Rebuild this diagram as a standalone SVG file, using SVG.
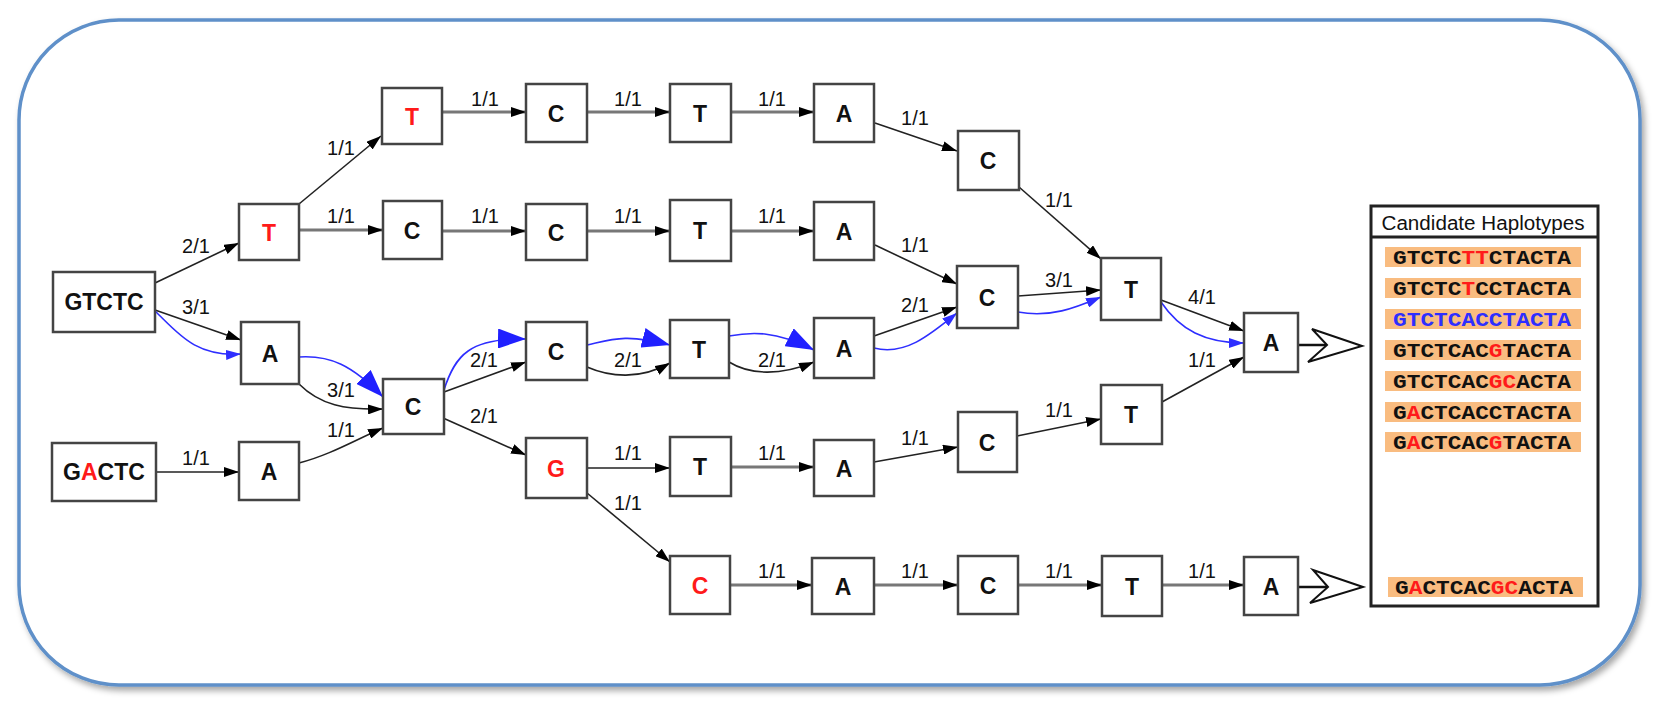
<svg xmlns="http://www.w3.org/2000/svg" width="1655" height="725" viewBox="0 0 1655 725">
<style>
.node rect{fill:#fff;stroke:#444;stroke-width:2.5}
.nt{font-family:"Liberation Sans",Arial,sans-serif;font-weight:bold;font-size:23px;text-anchor:middle;fill:#111}
.red{fill:#ff1a1a}
.lbl{font-family:"Liberation Sans",Arial,sans-serif;font-size:20px;text-anchor:middle;fill:#111}
.e{fill:none;stroke:#222;stroke-width:1.6;marker-end:url(#ab)}
.eh{fill:none;stroke:#777;stroke-width:3;marker-end:url(#ab)}
.b{fill:none;stroke:#2e2eff;stroke-width:1.6;marker-end:url(#abs)}
.bb{fill:none;stroke:#2e2eff;stroke-width:1.6;marker-end:url(#abb)}
.chev{fill:#fff;stroke:#111;stroke-width:2}
.hap{fill:#f9bc80}
.ht{font-family:"Liberation Mono","DejaVu Sans Mono",monospace;font-weight:bold;font-size:21px;fill:#111}
</style>
<defs>
<marker id="ab" viewBox="0 0 15 10" refX="15" refY="5" markerWidth="15" markerHeight="10" markerUnits="userSpaceOnUse" orient="auto"><path d="M0,0 L15,5 L0,10 z" fill="#000"/></marker>
<marker id="abs" viewBox="0 0 15 10" refX="15" refY="5" markerWidth="15" markerHeight="10" markerUnits="userSpaceOnUse" orient="auto"><path d="M0,0 L15,5 L0,10 z" fill="#2e2eff"/></marker>
<marker id="abb" viewBox="0 0 28 20" refX="28" refY="10" markerWidth="28" markerHeight="20" markerUnits="userSpaceOnUse" orient="auto"><path d="M0,0 L28,10 L0,20 z" fill="#2020ff"/></marker>
<filter id="sh" x="-5%" y="-5%" width="110%" height="115%"><feDropShadow dx="3" dy="4" stdDeviation="3" flood-color="#000" flood-opacity="0.35"/></filter>
</defs>
<rect x="19" y="20" width="1621" height="665" rx="100" ry="100" fill="#fff" stroke="#5f90c9" stroke-width="3.5" filter="url(#sh)"/>

<g id="connectors">
<path class="e" d="M155,283 L239,243"/>
<path class="e" d="M299,204 L381,136"/>
<path class="eh" d="M442,112 L526,112"/>
<path class="eh" d="M299,230 L383,230"/>
<path class="eh" d="M442,231 L526,231"/>
<path class="e" d="M155,310 L241,340"/>
<path class="b" d="M155,311 C178,333 195,357 241,354"/>
<path class="bb" d="M299,357 C330,355 352,365 383,397"/>
<path class="e" d="M299,384 C320,405 345,410 383,409"/>
<path class="e" d="M156,472 L239,472"/>
<path class="e" d="M299,463 C330,455 355,440 383,428"/>
<path class="e" d="M444,392 L526,362"/>
<path class="bb" d="M444,390 C455,355 470,338 526,339"/>
<path class="e" d="M443,418 L526,455"/>
<path class="eh" d="M587,112 L670,112"/>
<path class="eh" d="M731,112 L814,112"/>
<path class="e" d="M875,123 L957,151"/>
<path class="e" d="M1019,187 L1101,259"/>
<path class="eh" d="M587,231 L670,231"/>
<path class="eh" d="M731,231 L814,231"/>
<path class="e" d="M875,245 L957,284"/>
<path class="e" d="M874,336 L957,307"/>
<path class="b" d="M874,348 C905,356 930,335 957,313"/>
<path class="e" d="M1018,296 L1101,290"/>
<path class="b" d="M1018,312 C1050,318 1075,308 1101,297"/>
<path class="bb" d="M587,345 C610,340 625,333 670,345"/>
<path class="e" d="M587,367 C610,377 640,380 670,363"/>
<path class="bb" d="M729,336 C750,332 775,330 814,350"/>
<path class="e" d="M729,362 C750,375 780,376 814,362"/>
<path class="e" d="M587,468 L670,468"/>
<path class="eh" d="M731,467 L814,467"/>
<path class="e" d="M874,462 L958,447"/>
<path class="e" d="M1017,436 L1101,419"/>
<path class="e" d="M587,493 L670,562"/>
<path class="eh" d="M730,585 L812,585"/>
<path class="eh" d="M874,585 L958,585"/>
<path class="eh" d="M1018,585 L1102,585"/>
<path class="eh" d="M1162,585 L1244,585"/>
<path class="e" d="M1161,300 L1244,331"/>
<path class="b" d="M1161,302 C1180,330 1205,343 1244,343"/>
<path class="e" d="M1162,402 L1244,357"/>
<path d="M1298,345 L1327,345" stroke="#111" stroke-width="2.5"/>
<polygon class="chev" points="1312,329 1362,346 1308,362 1327,345"/>
<path d="M1298,587 L1328,587" stroke="#111" stroke-width="2.5"/>
<polygon class="chev" points="1313,570 1363,587 1310,603 1328,587"/>
<g class="lbl">
<text x="485" y="106">1/1</text>
<text x="341" y="155">1/1</text>
<text x="341" y="223">1/1</text>
<text x="485" y="223">1/1</text>
<text x="196" y="253">2/1</text>
<text x="196" y="314">3/1</text>
<text x="341" y="397">3/1</text>
<text x="341" y="437">1/1</text>
<text x="196" y="465">1/1</text>
<text x="484" y="367">2/1</text>
<text x="484" y="423">2/1</text>
<text x="628" y="106">1/1</text>
<text x="772" y="106">1/1</text>
<text x="915" y="125">1/1</text>
<text x="1059" y="207">1/1</text>
<text x="628" y="223">1/1</text>
<text x="772" y="223">1/1</text>
<text x="915" y="252">1/1</text>
<text x="1059" y="287">3/1</text>
<text x="915" y="312">2/1</text>
<text x="628" y="367">2/1</text>
<text x="772" y="367">2/1</text>
<text x="628" y="460">1/1</text>
<text x="772" y="460">1/1</text>
<text x="915" y="445">1/1</text>
<text x="1059" y="417">1/1</text>
<text x="628" y="510">1/1</text>
<text x="772" y="578">1/1</text>
<text x="915" y="578">1/1</text>
<text x="1059" y="578">1/1</text>
<text x="1202" y="304">4/1</text>
<text x="1202" y="367">1/1</text>
<text x="1202" y="578">1/1</text>
</g>
</g>

<g id="n_gtctc" class="node"><rect x="53" y="272" width="102" height="60"/><text class="nt" x="104" y="310">GTCTC</text></g>
<g id="n_gactc" class="node"><rect x="52" y="443" width="104" height="58"/><text class="nt" x="104" y="480">G<tspan class="red">A</tspan>CTC</text></g>
<g id="n_t_red2" class="node"><rect x="239" y="204" width="60" height="56"/><text class="nt red" x="269" y="241">T</text></g>
<g id="n_a_r3" class="node"><rect x="241" y="322" width="58" height="62"/><text class="nt" x="270" y="362">A</text></g>
<g id="n_a_r4" class="node"><rect x="239" y="442" width="60" height="58"/><text class="nt" x="269" y="480">A</text></g>
<g id="n_t_red1" class="node"><rect x="382" y="88" width="60" height="56"/><text class="nt red" x="412" y="125">T</text></g>
<g id="n_c_r2a" class="node"><rect x="383" y="201" width="59" height="58"/><text class="nt" x="412" y="239">C</text></g>
<g id="n_c_merge" class="node"><rect x="383" y="379" width="61" height="55"/><text class="nt" x="413" y="415">C</text></g>
<g id="n_c_r1" class="node"><rect x="526" y="84" width="61" height="58"/><text class="nt" x="556" y="122">C</text></g>
<g id="n_c_r2b" class="node"><rect x="526" y="204" width="61" height="56"/><text class="nt" x="556" y="241">C</text></g>
<g id="n_c_r3" class="node"><rect x="526" y="322" width="61" height="58"/><text class="nt" x="556" y="360">C</text></g>
<g id="n_g" class="node"><rect x="526" y="438" width="61" height="60"/><text class="nt red" x="556" y="477">G</text></g>
<g id="n_t_r1" class="node"><rect x="670" y="84" width="61" height="58"/><text class="nt" x="700" y="122">T</text></g>
<g id="n_t_r2" class="node"><rect x="670" y="200" width="61" height="61"/><text class="nt" x="700" y="239">T</text></g>
<g id="n_t_r3" class="node"><rect x="670" y="320" width="59" height="58"/><text class="nt" x="699" y="358">T</text></g>
<g id="n_t_r4" class="node"><rect x="670" y="437" width="61" height="59"/><text class="nt" x="700" y="475">T</text></g>
<g id="n_c_red" class="node"><rect x="670" y="556" width="60" height="58"/><text class="nt red" x="700" y="594">C</text></g>
<g id="n_a_r1" class="node"><rect x="814" y="84" width="60" height="58"/><text class="nt" x="844" y="122">A</text></g>
<g id="n_a_r2" class="node"><rect x="814" y="202" width="60" height="58"/><text class="nt" x="844" y="240">A</text></g>
<g id="n_a_r3b" class="node"><rect x="814" y="318" width="60" height="60"/><text class="nt" x="844" y="357">A</text></g>
<g id="n_a_r4b" class="node"><rect x="814" y="440" width="60" height="56"/><text class="nt" x="844" y="477">A</text></g>
<g id="n_a_r5" class="node"><rect x="812" y="558" width="62" height="56"/><text class="nt" x="843" y="595">A</text></g>
<g id="n_c_off" class="node"><rect x="958" y="131" width="61" height="59"/><text class="nt" x="988" y="169">C</text></g>
<g id="n_c_merge2" class="node"><rect x="957" y="266" width="61" height="62"/><text class="nt" x="987" y="306">C</text></g>
<g id="n_c_r4" class="node"><rect x="958" y="412" width="59" height="60"/><text class="nt" x="987" y="451">C</text></g>
<g id="n_c_r5" class="node"><rect x="958" y="556" width="60" height="58"/><text class="nt" x="988" y="594">C</text></g>
<g id="n_t_merge" class="node"><rect x="1101" y="258" width="60" height="62"/><text class="nt" x="1131" y="298">T</text></g>
<g id="n_t_r4b" class="node"><rect x="1101" y="385" width="61" height="59"/><text class="nt" x="1131" y="423">T</text></g>
<g id="n_t_r5" class="node"><rect x="1102" y="556" width="60" height="60"/><text class="nt" x="1132" y="595">T</text></g>
<g id="n_a_final" class="node"><rect x="1244" y="313" width="54" height="59"/><text class="nt" x="1271" y="351">A</text></g>
<g id="n_a_final5" class="node"><rect x="1244" y="557" width="54" height="58"/><text class="nt" x="1271" y="595">A</text></g>

<g id="candidates">
<rect x="1371" y="206" width="227" height="400" fill="#fff" stroke="#222" stroke-width="3"/>
<line x1="1371" y1="237" x2="1598" y2="237" stroke="#222" stroke-width="3"/>
<text x="1483" y="230" font-family="'Liberation Sans',Arial,sans-serif" font-size="20" text-anchor="middle" fill="#111" textLength="203" lengthAdjust="spacingAndGlyphs">Candidate Haplotypes</text>
<rect class="hap" x="1385" y="247" width="196" height="20"/>
<rect class="hap" x="1385" y="278" width="196" height="20"/>
<rect class="hap" x="1385" y="309" width="196" height="20"/>
<rect class="hap" x="1385" y="340" width="196" height="20"/>
<rect class="hap" x="1385" y="371" width="196" height="20"/>
<rect class="hap" x="1385" y="402" width="196" height="20"/>
<rect class="hap" x="1385" y="432" width="196" height="20"/>
<rect class="hap" x="1388" y="577" width="195" height="20"/>
<text class="ht" x="1393" y="264" textLength="178" lengthAdjust="spacingAndGlyphs">GTCTC<tspan class="red">TT</tspan>CTACTA</text>
<text class="ht" x="1393" y="295" textLength="178" lengthAdjust="spacingAndGlyphs">GTCTC<tspan class="red">T</tspan>CCTACTA</text>
<text class="ht" x="1393" y="326" textLength="178" lengthAdjust="spacingAndGlyphs" style="fill:#2e2eff">GTCTCACCTACTA</text>
<text class="ht" x="1393" y="357" textLength="178" lengthAdjust="spacingAndGlyphs">GTCTCAC<tspan class="red">G</tspan>TACTA</text>
<text class="ht" x="1393" y="388" textLength="178" lengthAdjust="spacingAndGlyphs">GTCTCAC<tspan class="red">GC</tspan>ACTA</text>
<text class="ht" x="1393" y="419" textLength="178" lengthAdjust="spacingAndGlyphs">G<tspan class="red">A</tspan>CTCACCTACTA</text>
<text class="ht" x="1393" y="449" textLength="178" lengthAdjust="spacingAndGlyphs">G<tspan class="red">A</tspan>CTCAC<tspan class="red">G</tspan>TACTA</text>
<text class="ht" x="1395" y="594" textLength="178" lengthAdjust="spacingAndGlyphs">G<tspan class="red">A</tspan>CTCAC<tspan class="red">GC</tspan>ACTA</text>
</g>
</svg>
